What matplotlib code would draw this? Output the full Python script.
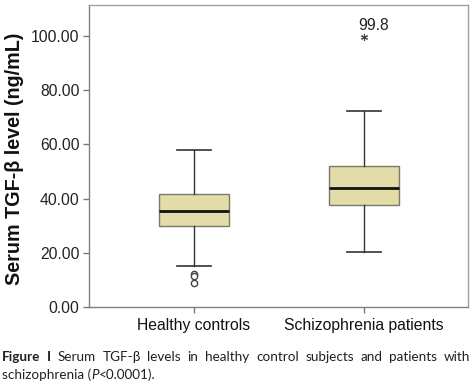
import matplotlib
matplotlib.use("Agg")
import matplotlib.pyplot as plt

# data
groups = ["Healthy controls", "Schizophrenia patients"]
whislo = [15.2, 20.3]
q1 = [30.0, 37.6]
medians = [35.3, 43.9]
q3 = [41.7, 51.9]
whishi = [57.8, 72.3]
outliers_healthy = [12.2, 11.4, 8.7]
extreme_schizo = [99.6]
extreme_label = "99.8"
yticks = [0, 20, 40, 60, 80, 100]

caption_line1 = "Serum TGF-\u03b2 levels in healthy control subjects and patients with"
caption_line2 = "schizophrenia ("

plt.rcParams['font.family'] = ['Liberation Sans', 'DejaVu Sans']

fig = plt.figure(figsize=(4.74, 3.89), dpi=100)
ax = fig.add_axes([0.188, 0.211, 0.799, 0.776])

stats = []
for i in range(len(groups)):
    stats.append({"whislo": whislo[i], "q1": q1[i], "med": medians[i],
                  "q3": q3[i], "whishi": whishi[i], "fliers": []})

positions = [1, 2]
ax.bxp(stats, positions=positions, widths=0.41, capwidths=0.2,
       patch_artist=True, showfliers=False,
       boxprops=dict(facecolor="#e1dca8", edgecolor="#7a7a6a", linewidth=1.0),
       medianprops=dict(color="#111111", linewidth=2.0),
       whiskerprops=dict(color="#333333", linewidth=1.0),
       capprops=dict(color="#333333", linewidth=1.2))

ax.plot([positions[0]] * len(outliers_healthy), outliers_healthy, 'o',
        mfc='white', mec='#444444', ms=4.5, mew=1.0)
ax.plot([positions[1]] * len(extreme_schizo), extreme_schizo,
        marker=(6, 2, 0), ls='none', color='#444444', ms=5, mew=0.8)
ax.text(positions[1] - 0.035, extreme_schizo[0] + 1.5, extreme_label,
        ha='left', va='bottom', fontsize=11.3, color='#222222')

ax.set_xlim(0.383, 2.61)
ax.set_ylim(0, 111.4)
ax.set_yticks(yticks)
ax.set_yticklabels([f"{v:.2f}" for v in yticks], fontsize=11.3, color='#222222')
ax.set_xticks(positions)
ax.set_xticklabels(groups, fontsize=11.3, color='#111111')
ax.tick_params(axis='both', length=4, width=1, color='#777777', pad=3)
ax.tick_params(axis='x', pad=4)
for s in ax.spines.values():
    s.set_color('#a0a0a0')
    s.set_linewidth(1.0)
ax.spines['left'].set_color('#808080')
ax.spines['bottom'].set_color('#808080')

fig.text(15 / 474, 1 - 159 / 389, "Serum TGF-\u03b2 level (ng/mL)", rotation=90,
         ha='center', va='center', fontsize=14.2, fontweight='bold', color='#111111')

# caption, first line justified across the width
cap_font = ['Lato', 'DejaVu Sans']
cap_color = '#231f20'
cap_size = 9.7
fig.canvas.draw()
renderer = fig.canvas.get_renderer()
y1 = 1 - 357 / 389
y2 = 1 - 375 / 389
words = [("Figure", 'bold'), ("I", 'bold')] + [(w, 'normal') for w in caption_line1.split()]
artists = []
for w, fw in words:
    t = fig.text(0, y1, w, fontsize=cap_size, family=cap_font, fontweight=fw,
                 color=cap_color, ha='left', va='center')
    artists.append(t)
fig.canvas.draw()
widths = [a.get_window_extent(renderer).width for a in artists]
left_px, right_px = 2.0, 470.0
gap = (right_px - left_px - sum(widths)) / (len(artists) - 1)
x = left_px
for a, w in zip(artists, widths):
    a.set_x(x / 474)
    x += w + gap

t2 = fig.text(2 / 474, y2, caption_line2, fontsize=cap_size, family=cap_font,
              color=cap_color, ha='left', va='center')
fig.canvas.draw()
xw = 2 + t2.get_window_extent(renderer).width
t3 = fig.text(xw / 474, y2, "P", fontsize=cap_size, family=cap_font, style='italic',
              color=cap_color, ha='left', va='center')
fig.canvas.draw()
xw += t3.get_window_extent(renderer).width
fig.text(xw / 474, y2, "<0.0001).", fontsize=cap_size, family=cap_font,
         color=cap_color, ha='left', va='center')

fig.savefig("out.png", dpi=100)
